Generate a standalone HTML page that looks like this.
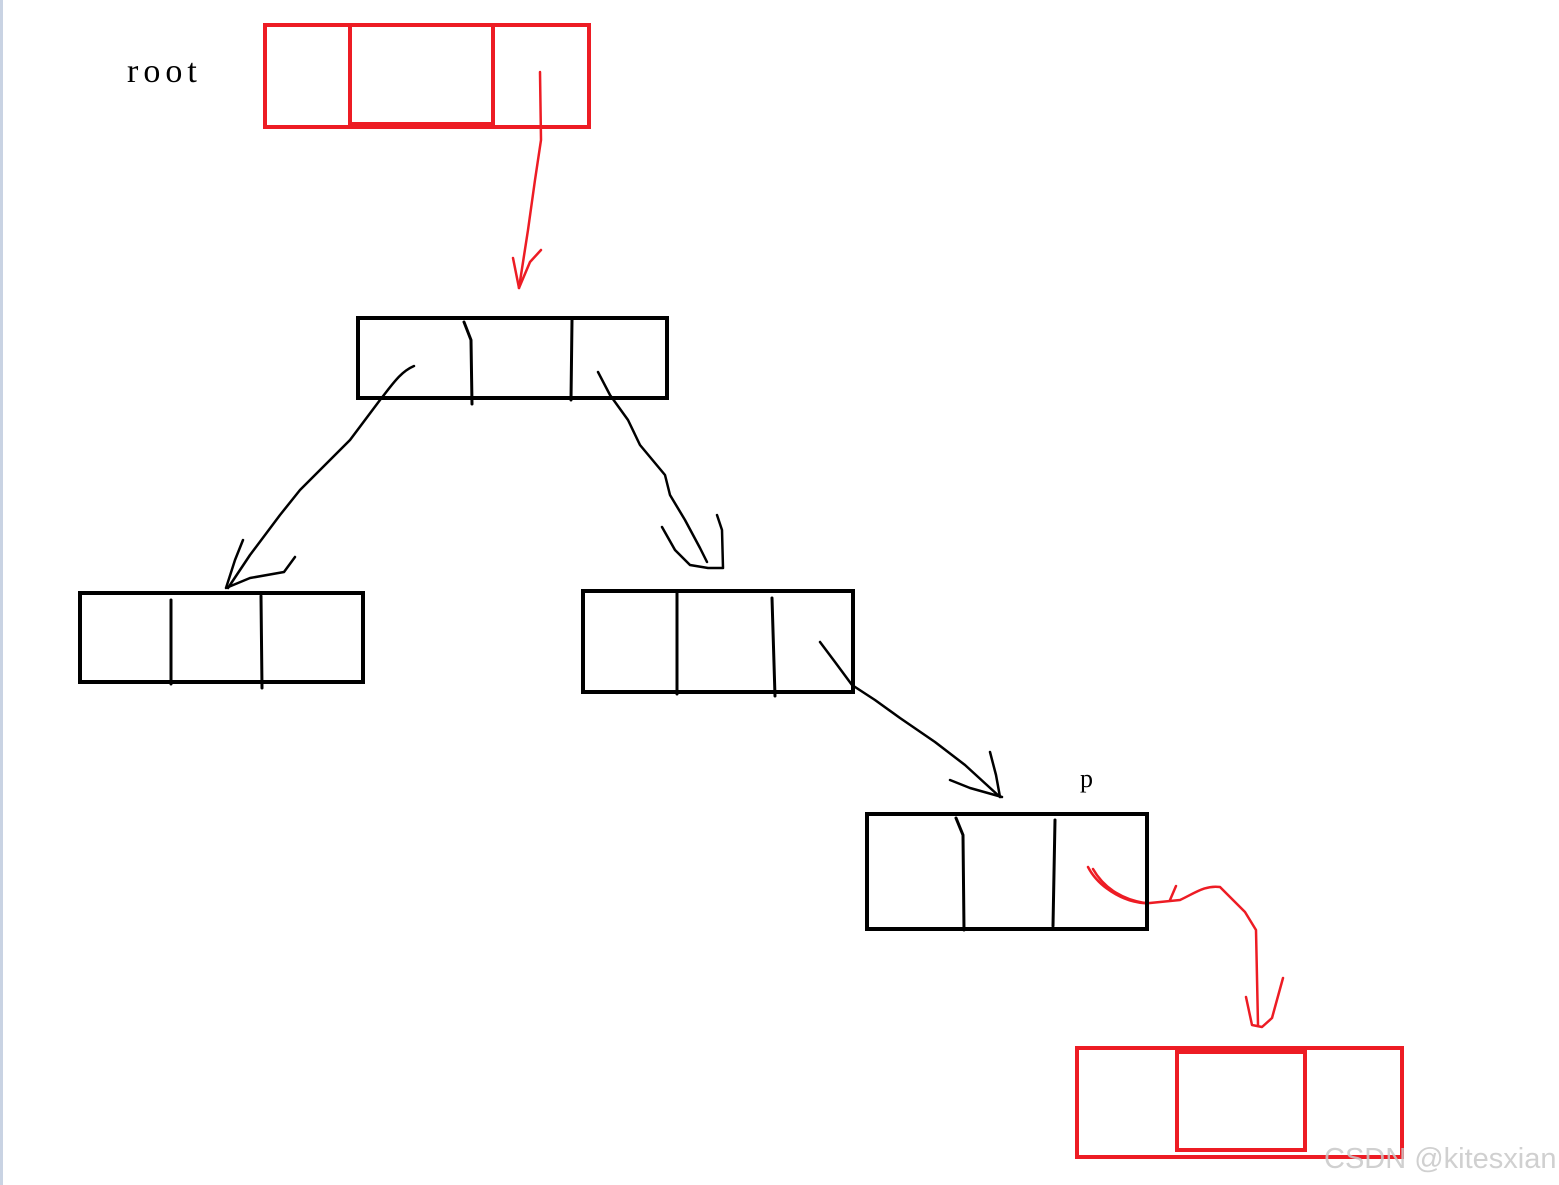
<!DOCTYPE html>
<html><head><style>
html,body{margin:0;padding:0;background:#fff;width:1559px;height:1185px;overflow:hidden}
</style></head><body>
<svg width="1559" height="1185" viewBox="0 0 1559 1185" xmlns="http://www.w3.org/2000/svg">
<rect x="0" y="0" width="3" height="1185" fill="#c9d3e3"/>
<text x="127" y="82" font-family="Liberation Serif, serif" font-size="34" letter-spacing="5" fill="#000">root</text>
<g fill="none" stroke="#ed1c24" stroke-width="4">
<rect x="265" y="25" width="324" height="102"/>
<rect x="350" y="25" width="143" height="99"/>
<rect x="1077" y="1048" width="325" height="109"/>
<rect x="1177" y="1052" width="128" height="98"/>
</g>
<g fill="none" stroke="#ed1c24" stroke-width="2.5" stroke-linejoin="round" stroke-linecap="round">
<path d="M540 72 L541 140 L535 180 L528 230 L519 288"/>
<path d="M513 258 L519 288 M541 250 L530 262 L519 288"/>
<path d="M1088 867 C1100 890 1130 905 1150 903 L1180 900 C1195 893 1205 885 1220 887 L1245 912 L1256 930 L1258 1025"/>
<path d="M1093 869 C1105 890 1125 900 1145 903"/>
<path d="M1176 886 L1170 900"/>
<path d="M1246 997 L1252 1025 L1262 1027 L1272 1018 L1283 978"/>
</g>
<g fill="none" stroke="#000" stroke-width="4">
<rect x="358" y="318" width="309" height="80"/>
<rect x="80" y="593" width="283" height="89"/>
<rect x="583" y="591" width="270" height="101"/>
<rect x="867" y="814" width="280" height="115"/>
</g>
<g fill="none" stroke="#000" stroke-width="3" stroke-linecap="round">
<path d="M464 322 L471 340 L472 404"/>
<path d="M572 320 L571 400"/>
<path d="M171 600 L171 684"/>
<path d="M261 596 L262 688"/>
<path d="M677 593 L677 694"/>
<path d="M772 598 L775 696"/>
<path d="M956 818 L963 835 L964 930"/>
<path d="M1055 820 L1053 926"/>
</g>
<g fill="none" stroke="#000" stroke-width="2.5" stroke-linejoin="round" stroke-linecap="round">
<path d="M414 366 C400 372 392 385 380 400 L350 440 L330 460 L300 490 L280 515 L250 555 L228 588"/>
<path d="M243 540 L235 560 L226 588 M295 557 L284 572 L250 578 L226 588"/>
<path d="M598 372 L610 395 L628 420 L640 445 L665 475 L670 495 L685 520 L700 548 L707 562"/>
<path d="M662 527 L675 550 L690 565 L708 568 L723 568 L722 530 L717 515"/>
<path d="M820 642 L835 662 L852 685 L875 700 L900 718 L935 742 L965 765 L1000 797"/>
<path d="M950 780 L970 788 L1002 797 M990 752 L996 775 L1000 797"/>
</g>
<text x="1080" y="787" font-family="Liberation Serif, serif" font-size="26" fill="#000">p</text>
<text x="1324" y="1168" font-family="Liberation Sans, sans-serif" font-size="29" fill="#c8c8c8" fill-opacity="0.85">CSDN @kitesxian</text>
</svg>
</body></html>
